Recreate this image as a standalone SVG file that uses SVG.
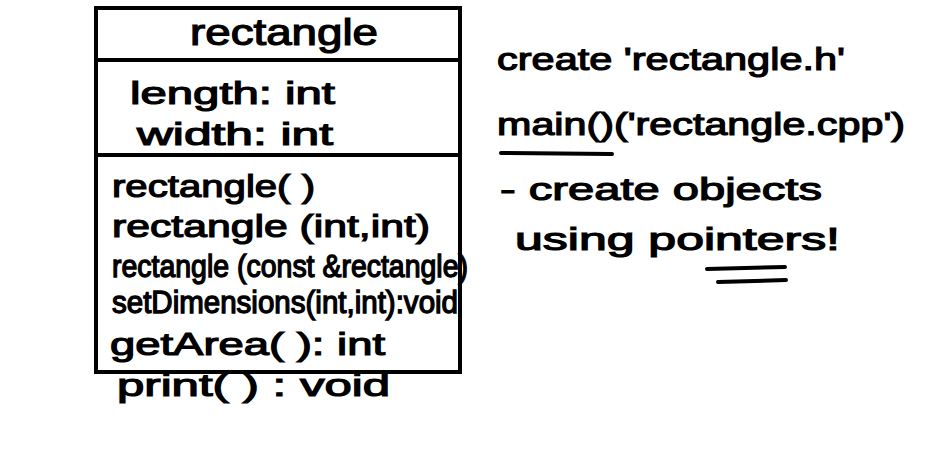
<svg xmlns="http://www.w3.org/2000/svg" width="936" height="469" viewBox="0 0 936 469">
<style>
.ln{stroke:#000;stroke-width:4;fill:none;stroke-linecap:round}
.t{font-family:"Liberation Sans","DejaVu Sans",sans-serif;fill:#000;font-size:32px;stroke:#000;stroke-width:1.2}
.big{font-size:36px}
.sm{stroke-width:1.4}
</style>
<rect width="936" height="469" fill="#fff"/>
<g id="class-rectangle">
  <rect class="ln" x="96" y="8" width="364" height="364"/>
  <line class="ln" x1="96" y1="60" x2="460" y2="60"/>
  <line class="ln" x1="96" y1="155" x2="460" y2="155"/>
  <text class="t big" x="190" y="45" textLength="188" lengthAdjust="spacingAndGlyphs">rectangle</text>
  <text class="t" x="130" y="104" textLength="205" lengthAdjust="spacingAndGlyphs">length: int</text>
  <text class="t" x="137" y="145" textLength="196" lengthAdjust="spacingAndGlyphs">width: int</text>
  <text class="t" x="112" y="197" textLength="203" lengthAdjust="spacingAndGlyphs">rectangle( )</text>
  <text class="t" x="112" y="237" textLength="318" lengthAdjust="spacingAndGlyphs">rectangle (int,int)</text>
  <text class="t sm" x="112" y="277" textLength="356" lengthAdjust="spacingAndGlyphs">rectangle (const &amp;rectangle)</text>
  <text class="t sm" x="112" y="313" textLength="346" lengthAdjust="spacingAndGlyphs">setDimensions(int,int):void</text>
  <text class="t" x="110" y="355" textLength="275" lengthAdjust="spacingAndGlyphs">getArea( ): int</text>
  <text class="t" x="117" y="396" textLength="273" lengthAdjust="spacingAndGlyphs">print( ) : void</text>
</g>
<g id="notes">
  <text class="t" x="497" y="70" textLength="348" lengthAdjust="spacingAndGlyphs">create 'rectangle.h'</text>
  <text class="t" x="497" y="135" textLength="408" lengthAdjust="spacingAndGlyphs">main()('rectangle.cpp')</text>
  <line class="ln" x1="501" y1="153" x2="612" y2="154"/>
  <text class="t" x="500" y="200" textLength="322" lengthAdjust="spacingAndGlyphs">- create objects</text>
  <text class="t" x="515" y="250" textLength="325" lengthAdjust="spacingAndGlyphs">using pointers!</text>
  <line class="ln" x1="707" y1="269" x2="785" y2="267"/>
  <line class="ln" x1="718" y1="282" x2="786" y2="280"/>
</g>
</svg>
